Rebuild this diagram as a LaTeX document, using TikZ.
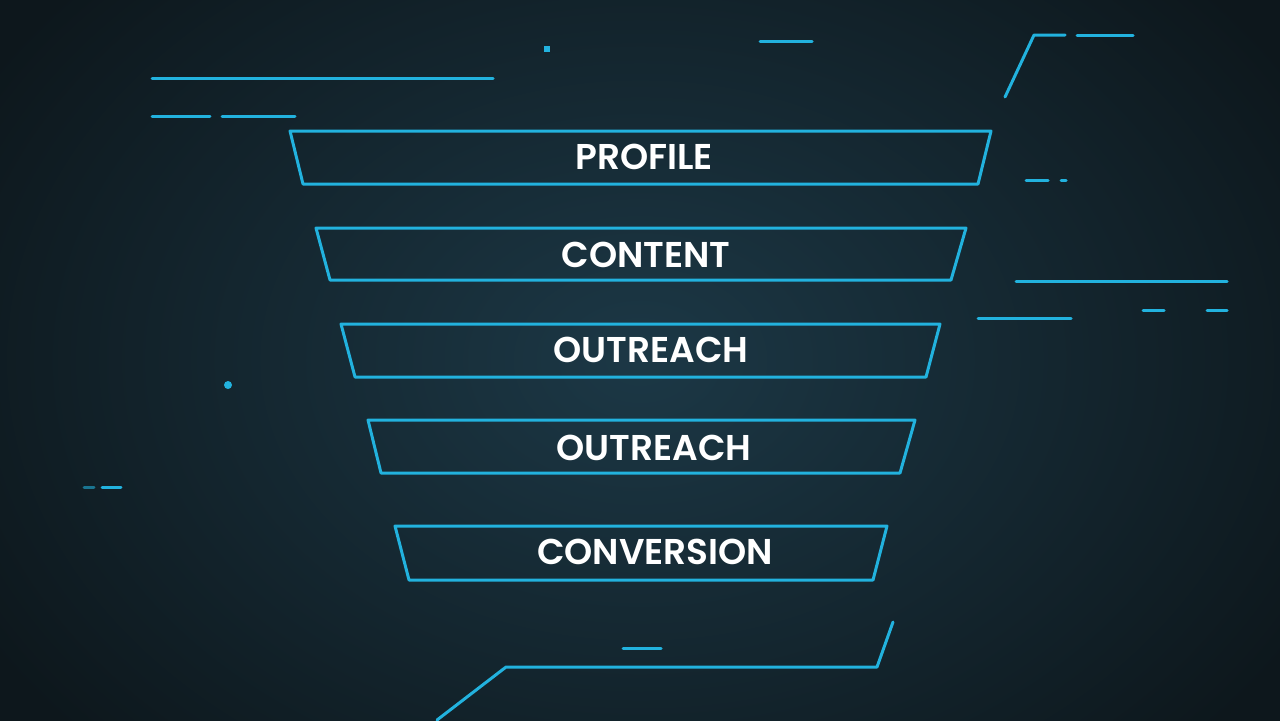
\documentclass[tikz,border=0pt]{standalone}
\usepackage{fontspec}
\newfontfamily\lblfont{Poppins}[UprightFont={* SemiBold}]
\definecolor{bgin}{HTML}{1C3846}
\definecolor{bgout}{HTML}{0D171C}
\definecolor{neon}{HTML}{22B2DE}
\definecolor{neonglow}{HTML}{1A5A70}
\tikzset{
  neonline/.style={draw=neon, line width=0.85pt, line cap=round, line join=round},
  funnel/.style={neonline},
  lbl/.style={text=white, font=\lblfont\fontsize{10.2}{12}\selectfont, inner sep=0pt},
  dotmark/.style={fill=neon, draw=none}
}
\begin{document}
\begin{tikzpicture}[x=0.01cm, y=-0.01cm]
\useasboundingbox (0,0) rectangle (1280,720);
\clip (0,0) rectangle (1280,720);
\fill[bgout] (-10,-10) rectangle (1290,730);
\shade[inner color=bgin, outer color=bgout] (640,360) ellipse (760 and 560);

% funnel stages
\draw[funnel] (290,131) -- (991,131) -- (978,184) -- (303,184) -- cycle;
\node[lbl] (profile) at (644,157) {PROFILE};
\draw[funnel] (316,228) -- (966,228) -- (951,280) -- (330,280) -- cycle;
\node[lbl] (content) at (646,255) {CONTENT};
\draw[funnel] (341,324) -- (940,324) -- (926,377) -- (355,377) -- cycle;
\node[lbl] (outreachA) at (651,350) {OUTREACH};
\draw[funnel] (368,420) -- (915,420) -- (900,473) -- (381,473) -- cycle;
\node[lbl] (outreachB) at (654,448) {OUTREACH};
\draw[funnel] (395,526) -- (887,526) -- (873,580) -- (409,580) -- cycle;
\node[lbl] (conversion) at (655,552) {CONVERSION};

% decorative lines, top left
\draw[neonline] (152,78) -- (493,78);
\draw[neonline] (152,116) -- (210,116);
\draw[neonline] (222,116) -- (295,116);
\fill[dotmark] (544,46) rectangle (550,52);
% top middle
\draw[neonline] (760,41) -- (812,41);
% top right
\draw[neonline] (1005,97) -- (1034,35) -- (1065,35);
\draw[neonline] (1077,35) -- (1133,35);
\draw[neonline] (1026,180) -- (1048,180);
\draw[neonline] (1061,180) -- (1066,180);
% right
\draw[neonline] (1016,281) -- (1227,281);
\draw[neonline] (978,318) -- (1071,318);
\draw[neonline] (1143,310) -- (1164,310);
\draw[neonline] (1207,310) -- (1227,310);
% left
\fill[dotmark] (228,385) circle (4);
\draw[neonline, draw=neon!60!bgout] (84,487) -- (94,487);
\draw[neonline] (102,487) -- (121,487);
% bottom
\draw[neonline] (437,720) -- (506,667) -- (877,667) -- (893,622);
\draw[neonline] (623,648) -- (661,648);
\end{tikzpicture}
\end{document}
